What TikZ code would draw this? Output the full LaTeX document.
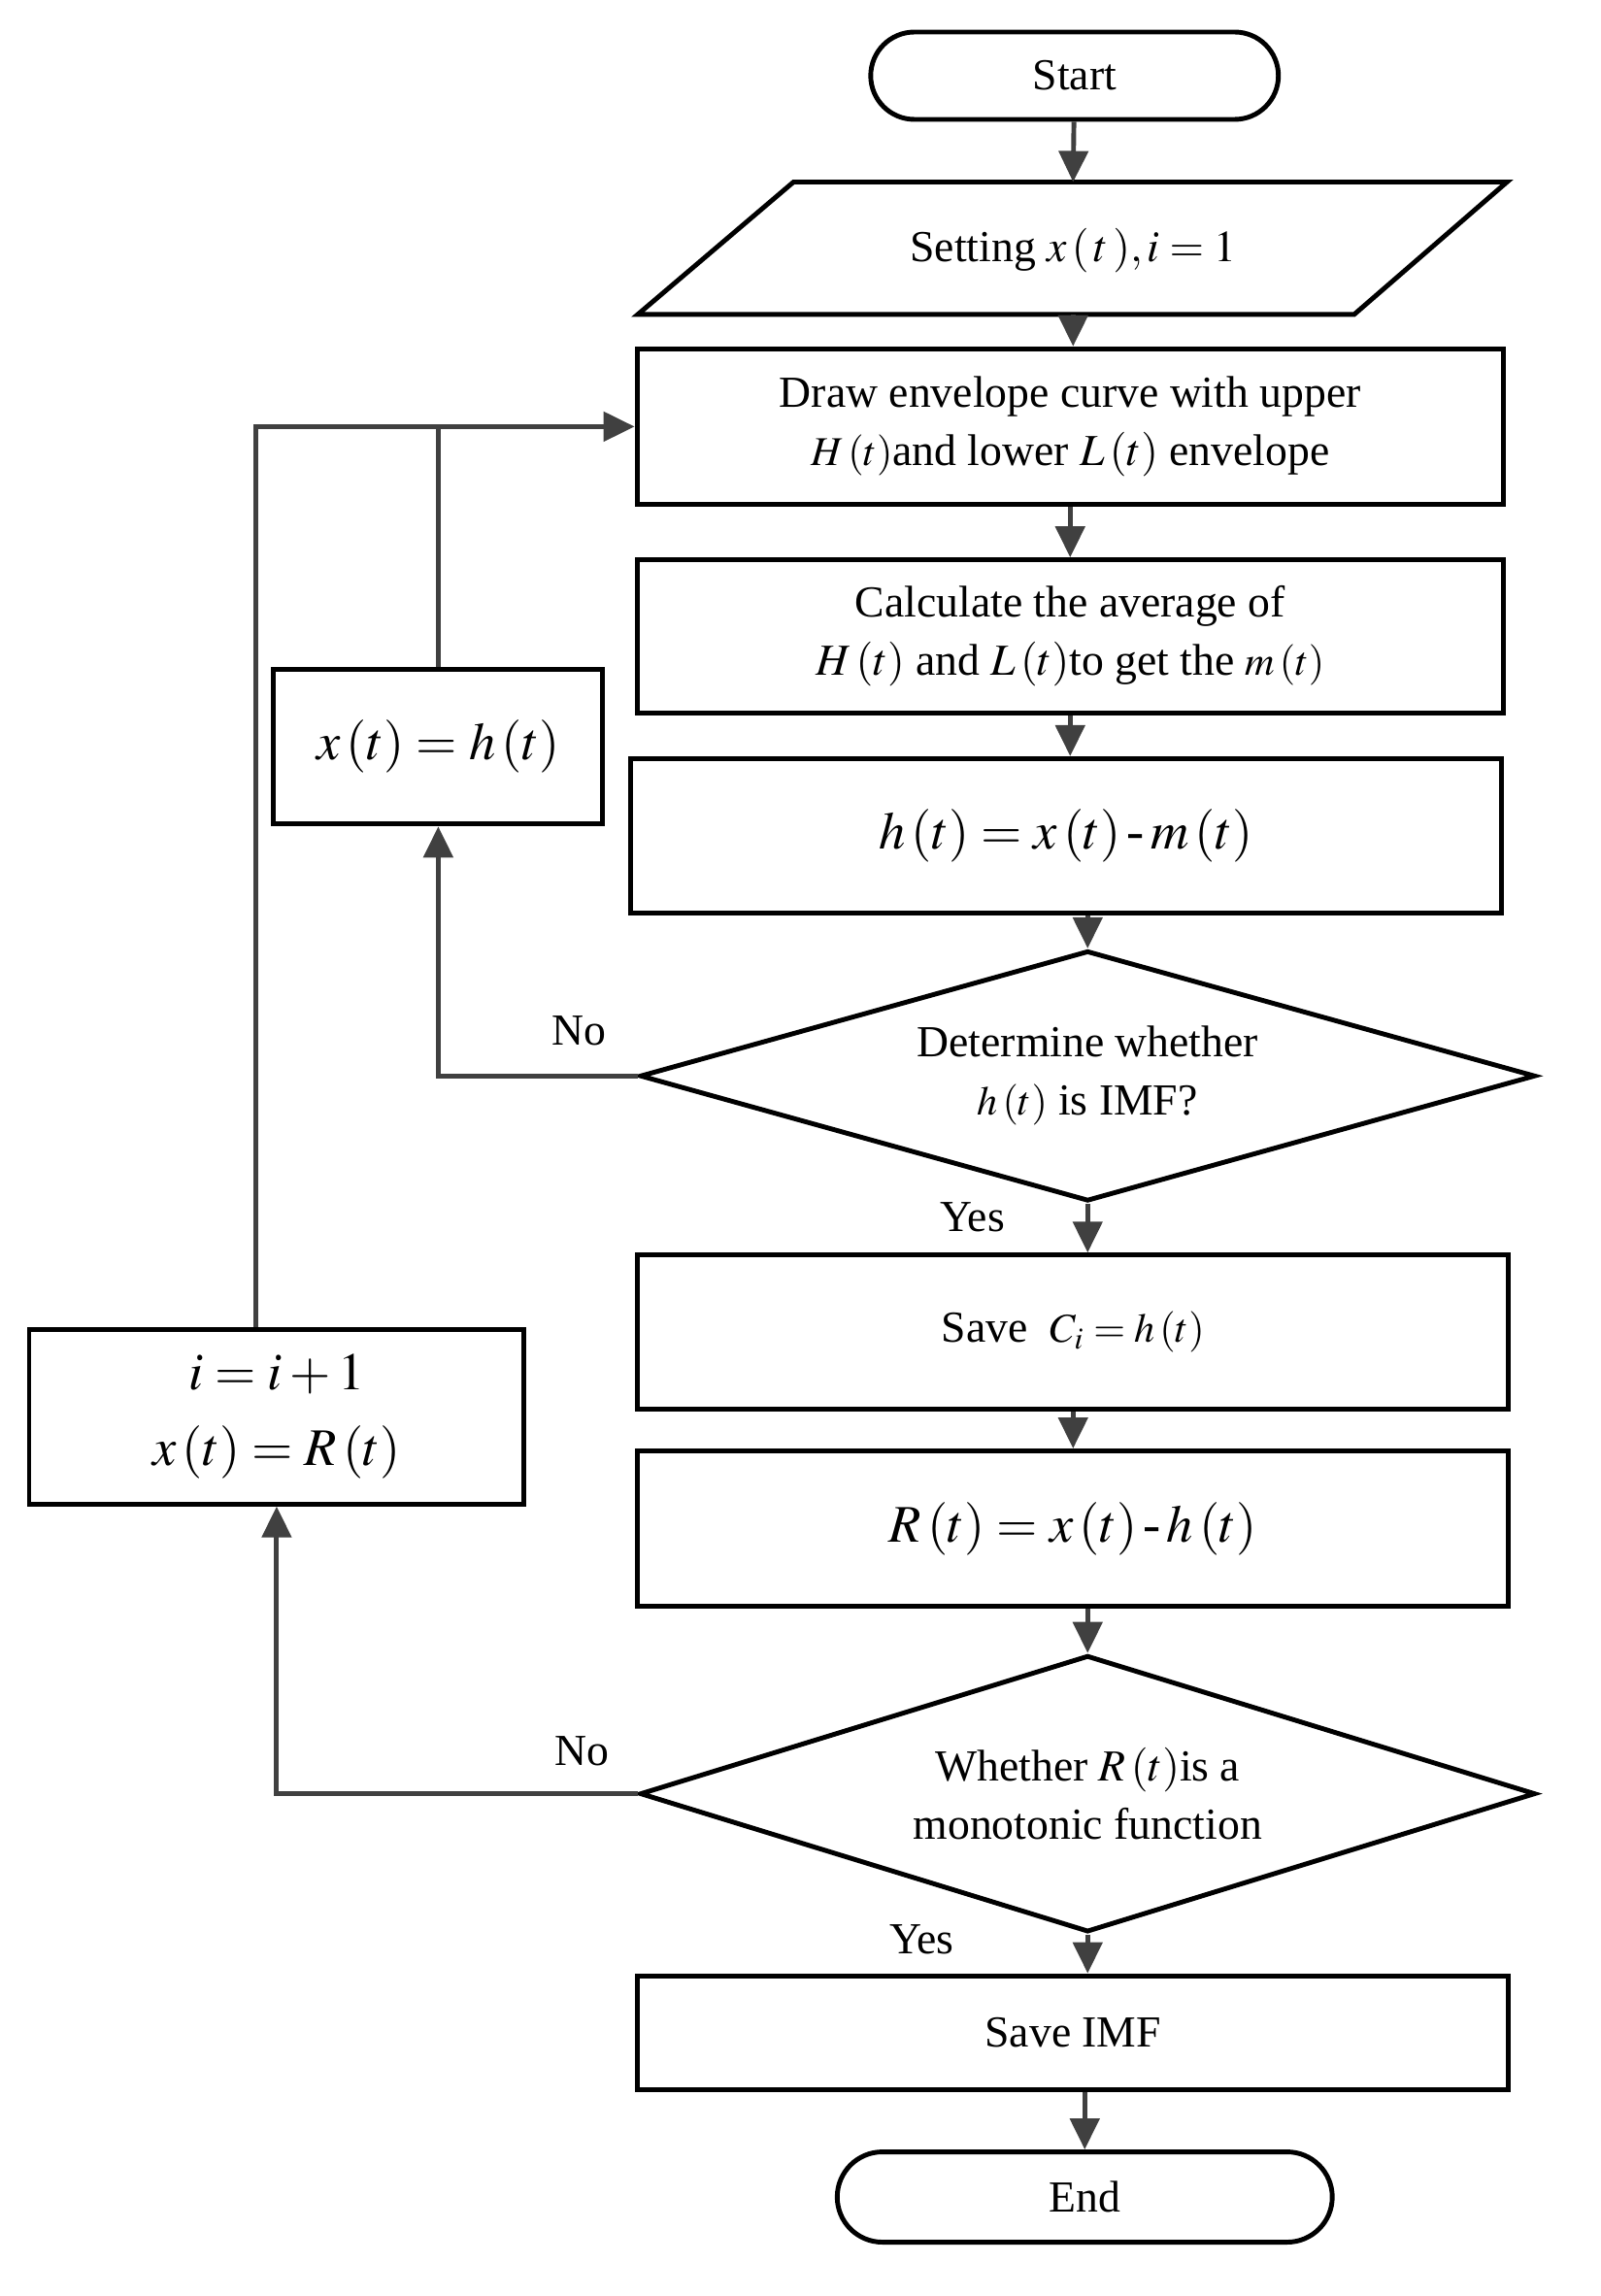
\documentclass[tikz,border=0pt]{standalone}
\usepackage{mathptmx}
\usepackage{fontspec}
\setmainfont{Liberation Serif}
\usetikzlibrary{arrows.meta, shapes.geometric, calc}

\tikzset{
  flow/.style={draw=lgray, line width=1.4pt, -{Triangle[length=3.2mm,width=3mm]}},
  link/.style={draw=lgray, line width=1.4pt},
  box/.style={draw=black, line width=1.4pt, align=center, inner sep=0pt},
  lbl/.style={font=\fontsize{13}{15}\selectfont},
  big/.style={font=\fontsize{15.5}{20}\selectfont}
}
\definecolor{lgray}{HTML}{404040}

\begin{document}
\begin{tikzpicture}[x=0.015cm, y=-0.015cm, font=\fontsize{13}{17}\selectfont]
  \useasboundingbox (0,0) rectangle (1099,1577);

  % terminals
  \node [box, rounded corners=30*0.015cm, minimum width=280*0.015cm, minimum height=60*0.015cm] (start) at (738,52) {Start};
  \node [box, rounded corners=31*0.015cm, minimum width=340*0.015cm, minimum height=62*0.015cm] (end) at (745,1509) {End};

  % input
  \draw [line width=1.4pt] (545,125) -- (1035,125) -- (930,216) -- (438,216) -- cycle;
  \node (setting) at (737,172) {Setting $x\,(\,t\,),i=1$};
  \coordinate (settop) at (737,125);
  \coordinate (setbot) at (737,216);

  % process boxes
  \node [box, minimum width=595*0.015cm, minimum height=107*0.015cm] (envelope) at (735,293) {Draw envelope curve with upper\\ {\large$H\left(t\right)$}and lower $L\left(t\right)$ envelope};
  \node [box, minimum width=595*0.015cm, minimum height=105*0.015cm] (average) at (735,437) {Calculate the average of\\ $H\left(t\right)$ and $L\left(t\right)$to get the {\large$m\left(t\right)$}};
  \node [box, big, minimum width=598*0.015cm, minimum height=106*0.015cm] (hbox) at (732,574) {$h\left(t\right)=x\left(t\right)\mbox{-}\,m\left(t\right)$};
  \node [box, diamond, aspect=3.58, minimum width=615*0.015cm, minimum height=172*0.015cm, inner sep=0pt] (isimf) at (747,739) {Determine whether\\ {\large$h\left(t\right)$} is IMF?};
  \node [box, minimum width=598*0.015cm, minimum height=106*0.015cm] (save) at (737,915) {Save\ \ {\large$C_i=h\left(t\right)$}};
  \node [box, big, minimum width=598*0.015cm, minimum height=107*0.015cm] (rbox) at (737,1050) {$R\left(t\right)=x\left(t\right)\mbox{-}\,h\left(t\right)$};
  \node [box, diamond, aspect=3.24, minimum width=615*0.015cm, minimum height=190*0.015cm, inner sep=0pt] (mono) at (747,1232) {Whether $R\left(t\right)$is a\\ monotonic function};
  \node [box, minimum width=598*0.015cm, minimum height=78*0.015cm] (saveimf) at (737,1396) {Save IMF};

  % feedback boxes
  \node [box, big, minimum width=226*0.015cm, minimum height=106*0.015cm] (xh) at (301,513) {$x\left(t\right)=h\left(t\right)$};
  \node [box, big, minimum width=340*0.015cm, minimum height=120*0.015cm] (incr) at (190,973) {$i=i+1$\\[2pt] $x\left(t\right)=R\left(t\right)$};

  % main flow
  \draw [flow] (start) -- (settop);
  \draw [flow] (setbot) -- (envelope.north -| setbot);
  \draw [flow] (envelope.south) -- (average.north);
  \draw [flow] (average.south) -- (average.south |- hbox.north);
  \draw [flow] (hbox.south -| isimf.north) -- (isimf.north);
  \draw [flow] (isimf.south) -- (isimf.south |- save.north);
  \draw [flow] (save.south) -- (rbox.north);
  \draw [flow] (rbox.south -| mono.north) -- (mono.north);
  \draw [flow] (mono.south) -- (mono.south |- saveimf.north);
  \draw [flow] (saveimf.south -| end.north) -- (end.north);

  % loops
  \draw [flow] (isimf.west) -| (xh.south);
  \draw [link] (xh.north) -- (xh.north |- envelope.west);
  \draw [flow] (mono.west) -| (incr.south);
  \draw [flow] (incr.north -| 176,0) |- (envelope.west);

  % labels
  \node [lbl] (no1) at (398,708) {No};
  \node [lbl] (yes1) at (668,836) {Yes};
  \node [lbl] (no2) at (400,1203) {No};
  \node [lbl] (yes2) at (633,1332) {Yes};
\end{tikzpicture}
\end{document}
